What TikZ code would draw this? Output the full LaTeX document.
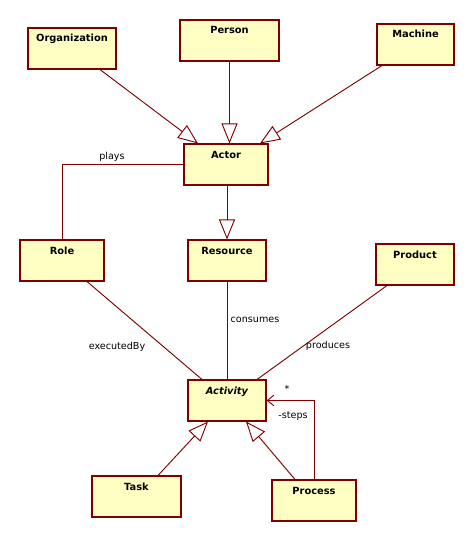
\documentclass[tikz,border=0pt]{standalone}
\usepackage{fontspec}
\setmainfont{DejaVu Sans}
\usetikzlibrary{arrows.meta,calc}
\definecolor{umlline}{RGB}{128,0,0}
\definecolor{umlfill}{RGB}{255,255,196}
\tikzset{
  cls/.style={draw=umlline, fill=umlfill, line width=0.8pt, rectangle, inner sep=0pt,
    minimum height=41*0.75pt, text height=5.25pt, text depth=15pt,
    font=\fontsize{7.4pt}{8pt}\selectfont\bfseries},
  conn/.style={draw=umlline, line width=0.7pt},
  gen/.style={conn, -{Triangle[open, length=15pt, width=12pt, line width=0.7pt]}},
  nav/.style={conn, -{Straight Barb[length=5pt, width=8pt, line width=0.7pt]}},
  lbl/.style={inner sep=0pt, font=\fontsize{7.2pt}{8pt}\selectfont}
}
\begin{document}
\begin{tikzpicture}[x=0.75pt, y=-0.75pt]
\useasboundingbox (0,0) rectangle (475,542);
\fill[white] (0,0) rectangle (475,542);
% classes
\node[cls, minimum width=88*0.75pt] (org) at (72,48.5) {Organization};
\node[cls, minimum width=99*0.75pt] (person) at (229.5,40.5) {Person};
\node[cls, minimum width=77*0.75pt] (machine) at (415.5,44.5) {Machine};
\node[cls, minimum width=84*0.75pt] (actor) at (226,164.5) {Actor};
\node[cls, minimum width=84*0.75pt] (role) at (62,260.5) {Role};
\node[cls, minimum width=78*0.75pt] (resource) at (227,260.5) {Resource};
\node[cls, minimum width=78*0.75pt] (product) at (415,264.5) {Product};
\node[cls, minimum width=78*0.75pt] (activity) at (227,400.5) {\itshape Activity};
\node[cls, minimum width=89*0.75pt] (task) at (136.5,496.5) {Task};
\node[cls, minimum width=84*0.75pt] (process) at (314,500.5) {Process};
% generalizations
\draw[gen] ($(org.south)+(28,0)$) -- ($(actor.north)+(-28,0)$);
\draw[gen] (person.south) -- (person.south |- actor.north);
\draw[gen] ($(machine.south)+(-33.5,0)$) -- ($(actor.north)+(34,0)$);
\draw[gen] (actor.south -| resource.north) -- (resource.north);
\draw[gen] ($(task.north)+(21.5,0)$) -- ($(activity.south)+(-19,0)$);
\draw[gen] ($(process.north)+(-19,0)$) -- ($(activity.south)+(19,0)$);
% associations
\draw[conn] (actor.west) -- (role.north |- actor.west) -- (role.north);
\draw[conn] ($(role.south)+(25,0)$) -- ($(activity.north)+(-25,0)$);
\draw[conn] (resource.south) -- (activity.north);
\draw[conn] ($(product.south)+(-28,0)$) -- ($(activity.north)+(30,0)$);
\draw[nav] (process.north) |- (activity.east);
% labels
\node[lbl] (lplays) at (112,157) {plays};
\node[lbl] (lexec) at (117,347) {executedBy};
\node[lbl] (lcons) at (255,320) {consumes};
\node[lbl] (lprod) at (328,346) {produces};
\node[lbl] (lstar) at (287,389) {*};
\node[lbl] (lsteps) at (293,416) {-steps};
\end{tikzpicture}
\end{document}
